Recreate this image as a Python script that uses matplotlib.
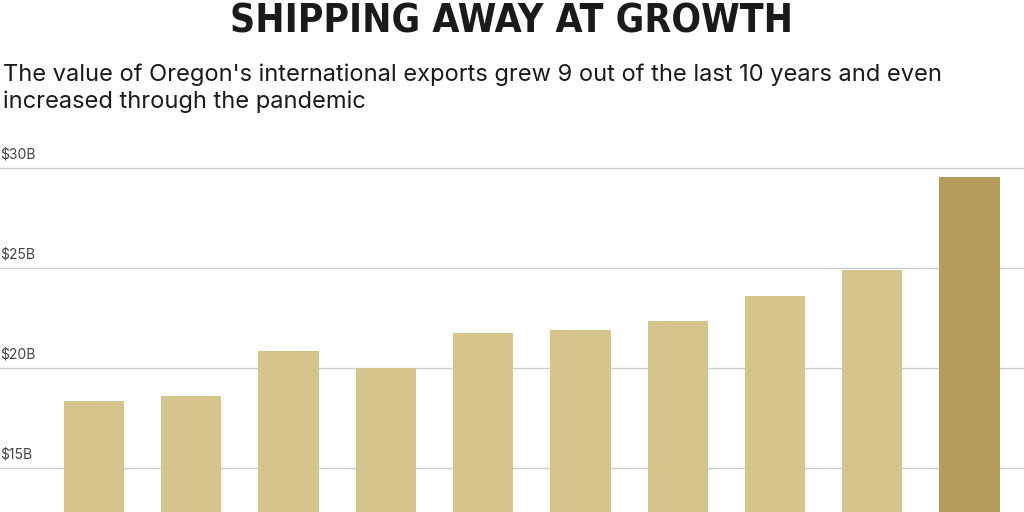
import matplotlib
matplotlib.use("Agg")
import matplotlib.pyplot as plt

years = list(range(2012, 2022))
values = [18.35, 18.6, 20.85, 20.0, 21.75, 21.9, 22.35, 23.6, 24.9, 29.55]
colors = ["#d5c48c"] * 9 + ["#b49d5a"]
yticks = [15, 20, 25, 30]
ytick_labels = ["$15B", "$20B", "$25B", "$30B"]

fig = plt.figure(figsize=(10.24, 5.12), dpi=100)
ax = fig.add_axes([0, 0, 1, 1 - 168/512])
x = list(range(len(values)))
ax.bar(x, values, width=0.62, color=colors, zorder=2)
ax.set_xlim(-0.966, 9.56)
ax.set_ylim(12.8, 30)
for t, l in zip(yticks, ytick_labels):
    ax.axhline(t, color="#cccccc", lw=1, zorder=1, clip_on=False)
    ax.text(-0.96, t + 0.35, l, fontsize=10, color="#444444", family="Inter", va="bottom", ha="left")
for s in ax.spines.values():
    s.set_visible(False)
ax.set_xticks([]); ax.set_yticks([])

fig.text(0.5, 0.995, "SHIPPING AWAY AT GROWTH", ha="center", va="top", fontsize=28,
         fontweight="bold", family="DejaVu Sans", fontstretch="condensed", color="#1a1a1a")
fig.text(0.003, 0.875, "The value of Oregon's international exports grew 9 out of the last 10 years and even\nincreased through the pandemic",
         ha="left", va="top", fontsize=17, family="Inter", color="#1a1a1a", linespacing=1.25)
fig.savefig("out.png", dpi=100)
